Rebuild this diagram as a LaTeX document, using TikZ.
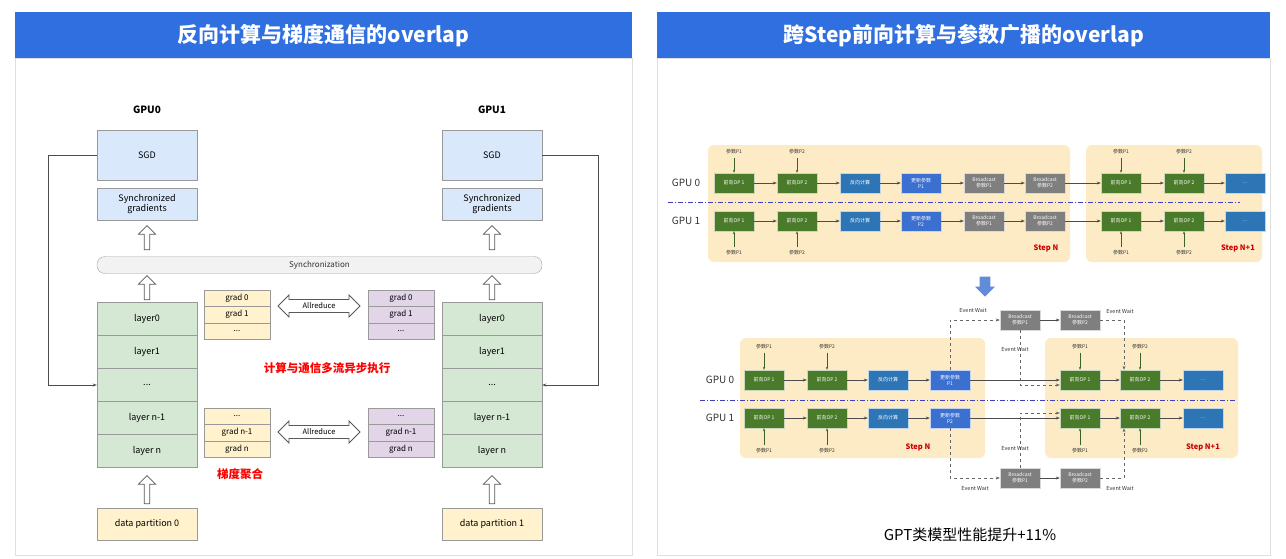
\documentclass[tikz,border=0pt]{standalone}
\usepackage{fontspec}
\setmainfont{Noto Sans CJK SC}
\usetikzlibrary{shapes.arrows,arrows.meta,positioning}
\definecolor{hdr}{HTML}{2F6FE0}
\definecolor{lblue}{HTML}{DAE8FC}
\definecolor{lgreen}{HTML}{D5E8D4}
\definecolor{lyel}{HTML}{FFF2CC}
\definecolor{lpur}{HTML}{E1D5E7}
\definecolor{bgy}{HTML}{FCEBC4}
\definecolor{gop}{HTML}{4A7B2A}
\definecolor{bop}{HTML}{2E75B6}
\definecolor{uop}{HTML}{3B6FD0}
\definecolor{gyop}{HTML}{7F7F7F}
\tikzset{
 x=1pt,y=-1pt,
 hbar/.style={fill=hdr,draw=none,text=white,font=\bfseries\fontsize{21}{21}\selectfont},
 lbox/.style={draw=gray!80,minimum width=100pt,font=\fontsize{9}{10}\selectfont,align=center,inner sep=1pt},
 gbox/.style={draw=gray!80,minimum width=66pt,minimum height=16.5pt,font=\fontsize{8}{9}\selectfont,inner sep=0pt},
 harr/.style={single arrow,draw=gray!70!black,thick,fill=white,rotate=90,minimum height=24pt,minimum width=17pt,single arrow head extend=3pt,inner sep=1pt},
 darr/.style={double arrow,draw=gray!70!black,thick,fill=white,minimum height=82pt,minimum width=22pt,double arrow head extend=3pt,font=\fontsize{7.5}{8}\selectfont,inner sep=1pt},
 op/.style={fill=#1,draw=white!70!#1,text=white,minimum width=42pt,minimum height=20pt,inner sep=0pt,font=\fontsize{5}{6}\selectfont,align=center},
 sop/.style={op=#1,minimum width=40pt,minimum height=20pt,font=\fontsize{5}{6}\selectfont},
 plab/.style={font=\fontsize{5}{6}\selectfont,text=black!80},
 ew/.style={font=\fontsize{5.5}{6}\selectfont,text=black!80,inner sep=0.5pt},
 ar/.style={-{Stealth[length=4pt]},black!70,semithick},
 par/.style={-{Stealth[length=3pt]},gop!80!black,thick},
 dsh/.style={dashed,black!60,semithick},
 red/.style={text=red!80!black,font=\bfseries\fontsize{7.5}{8}\selectfont},
 dd/.style={dash pattern=on 5pt off 2pt on 1pt off 2pt,blue!50!gray,thick}
}
\begin{document}
\begin{tikzpicture}
\useasboundingbox (0,0) rectangle (1286,558);
\fill[white] (0,0) rectangle (1286,558);
\draw[gray!25] (15,58) rectangle (632,555);
\node[hbar,minimum width=617pt,minimum height=46pt,anchor=north west] (hl) at (15,12) {反向计算与梯度通信的overlap};
\draw[gray!25] (657,58) rectangle (1270,555);
\node[hbar,minimum width=613pt,minimum height=46pt,anchor=north west] (hr) at (657,12) {跨Step前向计算与参数广播的overlap};

\foreach \c/\k in {147/0,492/1}{
 \node[font=\bfseries\fontsize{10}{11}\selectfont] (gpu\k) at (\c,110) {GPU\k};
 \node[lbox,fill=lblue,minimum height=50pt] (sgd\k) at (\c,155) {SGD};
 \node[lbox,fill=lblue,minimum height=32pt] (syn\k) at (\c,204) {Synchronized\\gradients};
 \node[harr] (a1\k) at (\c,239) {};
 \node[harr] (a2\k) at (\c,289) {};
 \node[lbox,fill=lgreen,minimum height=33pt] (l0\k) at (\c,319) {layer0};
 \node[lbox,fill=lgreen,minimum height=33pt] (l1\k) at (\c,352) {layer1};
 \node[lbox,fill=lgreen,minimum height=33pt] (l2\k) at (\c,385) {...};
 \node[lbox,fill=lgreen,minimum height=33pt] (l3\k) at (\c,418) {layer n-1};
 \node[lbox,fill=lgreen,minimum height=33pt] (l4\k) at (\c,451) {layer n};
 \node[harr,minimum height=28pt] (a3\k) at (\c,491) {};
 \node[lbox,fill=lyel,minimum height=32pt] (dp\k) at (\c,524) {data partition \k};
}
\node[draw=gray!70,fill=gray!10,rounded corners=8pt,minimum width=445pt,minimum height=17pt,font=\fontsize{8}{9}\selectfont,text=gray!40!black] (sync) at (319.5,265) {Synchronization};
\draw[ar,gray!60!black,thick] (sgd0.west) -- (48,155) |- (l20.west);
\draw[ar,gray!60!black,thick] (sgd1.east) -- (598,155) |- (l21.east);

\node[gbox,fill=lyel] (ga0) at (237,298) {grad 0};
\node[gbox,fill=lyel] (ga1) at (237,314.5) {grad 1};
\node[gbox,fill=lyel] (ga2) at (237,331) {...};
\node[gbox,fill=lpur] (gb0) at (401,298) {grad 0};
\node[gbox,fill=lpur] (gb1) at (401,314.5) {grad 1};
\node[gbox,fill=lpur] (gb2) at (401,331) {...};
\node[gbox,fill=lyel] (gc0) at (237,416) {...};
\node[gbox,fill=lyel] (gc1) at (237,432.5) {grad n-1};
\node[gbox,fill=lyel] (gc2) at (237,449) {grad n};
\node[gbox,fill=lpur] (gd0) at (401,416) {...};
\node[gbox,fill=lpur] (gd1) at (401,432.5) {grad n-1};
\node[gbox,fill=lpur] (gd2) at (401,449) {grad n};
\node[darr] (ar1) at (319,306) {Allreduce};
\node[darr] (ar2) at (319,432) {Allreduce};
\node[text=red,font=\bfseries\fontsize{11.5}{12}\selectfont] (t1) at (327,368) {计算与通信多流异步执行};
\node[text=red,font=\bfseries\fontsize{11.5}{12}\selectfont] (t2) at (240,474) {梯度聚合};

% ===== right top
\fill[bgy,rounded corners=6pt] (708,145) rectangle (1070,262);
\fill[bgy,rounded corners=6pt] (1086,145) rectangle (1262,262);
\draw[dd] (668,202) -- (1240,202);
\node[font=\fontsize{10}{11}\selectfont,text=black!80] (g0) at (686,183) {GPU 0};
\node[font=\fontsize{10}{11}\selectfont,text=black!80] (g1) at (686,221) {GPU 1};
\foreach \r/\y/\p in {0/183/1,1/221/2}{
 \node[sop=gop] (a\r1) at (734,\y) {前向OP 1};
 \node[sop=gop] (a\r2) at (797,\y) {前向OP 2};
 \node[sop=bop] (a\r3) at (860,\y) {反向计算};
 \node[sop=uop] (a\r4) at (921,\y) {更新参数\\P\p};
 \node[sop=gyop] (a\r5) at (984,\y) {Broadcast\\参数P1};
 \node[sop=gyop] (a\r6) at (1045,\y) {Broadcast\\参数P2};
 \node[sop=gop] (a\r7) at (1121,\y) {前向OP 1};
 \node[sop=gop] (a\r8) at (1184,\y) {前向OP 2};
 \node[sop=bop] (a\r9) at (1245,\y) {...};
 \foreach \i/\j in {1/2,2/3,3/4,4/5,5/6,6/7,7/8,8/9}{\draw[ar] (a\r\i) -- (a\r\j);}
}
\foreach \n/\x/\t in {1/734/参数P1,2/797/参数P2,7/1121/参数P1,8/1184/参数P2}{
 \node[plab] (pt\n) at (\x,152) {\t};
 \draw[par] (pt\n) -- (a0\n);
 \node[plab] (pb\n) at (\x,253) {\t};
 \draw[par] (pb\n) -- (a1\n);
}
\node[red] (sn) at (1046,248) {Step N};
\node[red] (sn1) at (1238,248) {Step N+1};
\node[single arrow,fill=uop!80,draw=none,rotate=-90,minimum height=20pt,minimum width=20pt,single arrow head extend=3pt] (down) at (985,284) {};

% ===== right bottom
\fill[bgy,rounded corners=6pt] (740,338) rectangle (985,458);
\fill[bgy,rounded corners=6pt] (1045,338) rectangle (1238,458);
\draw[dd] (700,400) -- (1235,400);
\node[font=\fontsize{10}{11}\selectfont,text=black!80] (h0) at (720,380) {GPU 0};
\node[font=\fontsize{10}{11}\selectfont,text=black!80] (h1) at (720,418) {GPU 1};
\foreach \r/\y/\p in {0/380/1,1/418/2}{
 \node[sop=gop] (b\r1) at (764,\y) {前向OP 1};
 \node[sop=gop] (b\r2) at (827,\y) {前向OP 2};
 \node[sop=bop] (b\r3) at (888,\y) {反向计算};
 \node[sop=uop] (b\r4) at (950,\y) {更新参数\\P\p};
 \node[sop=gop] (b\r5) at (1080,\y) {前向OP 1};
 \node[sop=gop] (b\r6) at (1140,\y) {前向OP 2};
 \node[sop=bop] (b\r7) at (1203,\y) {...};
 \foreach \i/\j in {1/2,2/3,3/4,4/5,5/6,6/7}{\draw[ar] (b\r\i) -- (b\r\j);}
}
\foreach \n/\x/\t in {1/764/参数P1,2/827/参数P2,5/1080/参数P1,6/1140/参数P2}{
 \node[plab] (qt\n) at (\x,347) {\t};
 \draw[par] (qt\n) -- (b0\n);
 \node[plab] (qb\n) at (\x,451) {\t};
 \draw[par] (qb\n) -- (b1\n);
}
\node[red] (tn) at (918,447) {Step N};
\node[red] (tn1) at (1203,447) {Step N+1};
\node[sop=gyop] (c1) at (1020,320) {Broadcast\\参数P1};
\node[sop=gyop] (c2) at (1080,320) {Broadcast\\参数P2};
\node[sop=gyop] (d1) at (1020,478) {Broadcast\\参数P1};
\node[sop=gyop] (d2) at (1080,478) {Broadcast\\参数P2};
\draw[ar] (c1) -- (c2);
\draw[ar] (d1) -- (d2);
\coordinate (k1) at (1124,320);
\coordinate (k2) at (1124,478);
\draw[dsh,-{Stealth[length=4pt]}] (b04.north) |- (c1.west);
\draw[dsh,-{Stealth[length=4pt]}] (c1.south) |- ([yshift=-5pt]b05.west);
\draw[dsh,-{Stealth[length=4pt]}] (c2.east) -- (k1) -- ([xshift=-16pt]b06.north);
\draw[dsh,-{Stealth[length=4pt]}] (b14.south) |- (d1.west);
\draw[dsh,-{Stealth[length=4pt]}] (d1.north) |- ([yshift=5pt]b15.west);
\draw[dsh,-{Stealth[length=4pt]}] (d2.east) -- (k2) -- ([xshift=-16pt]b16.south);
\node[ew,fill=white] (e1) at (973,310) {Event Wait};
\node[ew] (e2) at (1120,311) {Event Wait};
\node[ew] (e3) at (1015,349) {Event Wait};
\node[ew] (e4) at (1015,448) {Event Wait};
\node[ew,fill=white] (e5) at (975,488) {Event Wait};
\node[ew] (e6) at (1120,488) {Event Wait};
\node[font=\fontsize{15}{16}\selectfont] (gpt) at (970,535) {GPT类模型性能提升+11\%};
\end{tikzpicture}
\end{document}
